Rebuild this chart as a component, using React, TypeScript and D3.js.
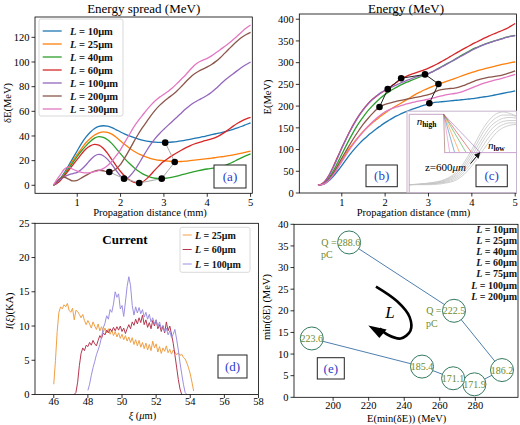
import React from "react";
import * as d3 from "d3";

const SERIF = "'Liberation Serif','DejaVu Serif','Times New Roman',serif";

// ---------- panels (a) and (b): propagation grid, mm ----------
const zMm = [0.45, 0.5, 0.6, 0.7, 0.8, 0.9, 1.0, 1.1, 1.2, 1.3, 1.4, 1.5, 1.6, 1.7, 1.8, 1.9, 2.0, 2.1, 2.2, 2.3, 2.4, 2.5, 2.6, 2.7, 2.8, 2.9, 3.0, 3.1, 3.2, 3.3, 3.4, 3.5, 3.6, 3.7, 3.8, 3.9, 4.0, 4.1, 4.2, 4.3, 4.4, 4.5, 4.6, 4.7, 4.8, 4.9, 5.0];

const lengthLabels = ["10", "25", "40", "60", "100", "200", "300"];
const lengthColors = ["#1f77b4", "#ff7f0e", "#2ca02c", "#d62728", "#9467bd", "#8c564b", "#e377c2"];

// energy spread (MeV)
const spreadL10 = [0, 1, 5, 10, 16, 22, 28, 34, 39, 43, 46, 47.8, 48.3, 48.0, 46.8, 45.0, 43.2, 41.5, 40.0, 38.8, 37.7, 36.6, 35.8, 35.3, 35.0, 34.8, 34.7, 34.8, 35.1, 35.5, 36.0, 36.6, 37.3, 38.0, 38.7, 39.4, 40.2, 41.0, 41.8, 42.6, 43.5, 44.4, 45.4, 46.6, 47.9, 49.3, 50.7];
const spreadL25 = [0, 1, 4, 9, 14.5, 20, 25, 30, 34.5, 38, 40.8, 42.6, 43.4, 43.0, 41.5, 39.0, 36.0, 33.0, 30.2, 27.8, 25.8, 24.2, 22.8, 21.7, 20.9, 20.3, 19.9, 19.6, 19.3, 19.2, 19.3, 19.6, 20.0, 20.4, 20.8, 21.2, 21.6, 22.0, 22.5, 23.0, 23.5, 24.1, 24.7, 25.4, 26.1, 26.9, 27.7];
const spreadL40 = [0, 1, 4, 8.5, 13.5, 18.5, 23.5, 28, 32, 35.5, 38.2, 39.4, 38.8, 37.0, 33.8, 29.8, 25.5, 21.4, 17.8, 14.6, 11.8, 9.5, 7.8, 6.5, 5.7, 5.3, 5.5, 6.0, 6.7, 7.5, 8.4, 9.3, 10.2, 11.1, 11.9, 12.6, 13.2, 13.7, 14.2, 14.9, 15.9, 17.3, 19.0, 20.8, 22.5, 24.1, 25.5];
const spreadL60 = [0, 1, 3.5, 7.5, 12, 16.5, 21, 25.5, 29.5, 32, 33.2, 32.6, 30.0, 25.8, 20.8, 15.8, 11.2, 7.4, 4.5, 2.6, 1.8, 2.6, 5.2, 8.8, 12.7, 16.3, 19.4, 22.0, 24.3, 26.4, 28.4, 30.3, 32.0, 33.5, 34.7, 35.7, 36.6, 37.6, 38.9, 40.7, 42.9, 45.4, 48.0, 50.3, 52.3, 53.8, 55.0];
const spreadL100 = [0, 1.5, 4.5, 7, 8.5, 9.5, 10.5, 13, 16.5, 20.5, 23.8, 25.0, 24.0, 21.0, 16.8, 12.0, 7.5, 5.2, 7.0, 11.0, 16.3, 22.2, 28.0, 33.3, 38.0, 42.0, 45.5, 48.8, 52.0, 55.2, 58.5, 61.8, 64.8, 67.2, 69.2, 71.0, 73.0, 75.5, 78.5, 81.8, 85.0, 87.8, 90.5, 93.2, 95.8, 98.0, 100.0];
const spreadL200 = [0, 2, 5.5, 6.5, 5, 3.5, 4, 6, 8, 10, 11.5, 12.2, 11.8, 10.9, 11.4, 13.5, 17.0, 22.5, 28.5, 35.0, 41.0, 46.5, 51.5, 56.5, 61.0, 64.8, 68.0, 70.8, 73.5, 76.5, 80.0, 83.8, 87.3, 90.3, 92.5, 94.2, 96.0, 98.0, 100.5, 103.5, 107.0, 110.5, 114.0, 117.2, 120.0, 122.3, 124.0];
const spreadL300 = [0, 3, 8, 13, 15, 13, 11.5, 10.5, 10, 10.2, 11, 12, 13.5, 16, 19.5, 24, 29, 35, 41, 47, 52, 56.5, 61, 65, 68.5, 71.5, 73.8, 76.3, 79.2, 82.5, 86.0, 89.5, 93.5, 97.2, 99.8, 101.5, 103.0, 105.0, 107.5, 110.0, 112.5, 115.2, 118.2, 121.3, 124.5, 127.5, 130.0];

// mean energy (MeV)
const energyL10 = [18, 18.5, 21, 28, 38, 50, 63, 77, 90, 102, 113, 123, 132, 140, 148, 155, 162, 168, 174, 179, 184, 188, 192, 195.5, 199, 202, 205, 207.5, 209, 210, 211, 212, 213, 214, 215, 216, 217, 218.5, 220, 221.5, 223, 225, 227, 229, 231, 233, 235];
const energyL25 = [18, 18.5, 22, 31, 44, 59, 75, 91, 106, 119, 131, 142, 152, 161, 169, 177, 184, 191, 197, 203, 209, 215, 221, 227, 232, 237, 241.5, 245.5, 249.5, 253, 256.5, 260, 263.5, 267, 270.5, 274, 277.5, 280.5, 283.5, 286, 288.5, 291, 293.5, 296, 298, 300, 302];
const energyL40 = [18, 18.5, 23, 34, 50, 69, 89, 109, 128, 146, 162, 176, 189, 200, 210, 219, 227, 234, 240, 245.5, 250.5, 255, 259, 263, 267, 271, 275, 279.5, 285, 290.5, 296, 301.5, 307, 313, 319, 324.5, 330, 334.5, 338.5, 342.5, 346, 349.5, 352.5, 355.5, 358.5, 361, 363];
const energyL60 = [18, 19, 26, 40, 60, 82, 104, 125, 145, 163, 179, 193, 205, 215, 223, 230, 236, 243, 250, 257.5, 264.5, 269, 273, 276.5, 280, 283.5, 287.5, 292, 297, 302.5, 308, 314, 320, 325.5, 331, 336.5, 342, 347, 352, 357, 361.5, 366, 370, 374, 378.5, 384, 390];
const energyL100 = [18, 19, 25, 39, 58, 80, 103, 124, 144, 162, 178, 192, 204, 214.5, 223, 231, 236.5, 241, 246, 250.5, 255, 259, 263, 266.5, 269.5, 272, 275, 279.5, 284.5, 290, 295.5, 301, 306.5, 312, 317.5, 323, 328.5, 333.5, 338, 342, 345.5, 349, 352, 355, 358, 360.5, 362.5];
const energyL200 = [18, 18.5, 22, 31, 45, 62, 80, 97, 114, 130, 145, 159, 171, 182, 192, 199.5, 204, 207, 209.5, 212, 214, 216, 218, 220, 222, 224, 226.5, 230, 235, 238, 239.5, 240.5, 241.5, 243.5, 247, 251, 255, 259, 262, 264.5, 266.5, 268, 269.5, 271.5, 274, 277.5, 281];
const energyL300 = [18, 18.5, 21, 29, 41, 56, 72, 88, 103, 117, 130, 142, 153, 163, 172, 180, 187, 192, 196, 199, 202, 205, 207.5, 210, 212, 214, 216, 218.5, 221, 223.5, 226, 227.5, 229, 231, 234, 238, 242, 246, 250, 253.5, 256.5, 259, 261.5, 264, 267, 270, 273];

const spreadSeries = [spreadL10, spreadL25, spreadL40, spreadL60, spreadL100, spreadL200, spreadL300];
const energySeries = [energyL10, energyL25, energyL40, energyL60, energyL100, energyL200, energyL300];

// position of the smallest spread (L = 200, 100, 60, 40, 25, 10)
const minSpreadZ = [1.74, 2.08, 2.43, 2.95, 3.25, 3.03];
const minSpreadVal = [10.8, 5.4, 1.9, 5.4, 18.9, 34.6];
const minEnergyZ = [1.87, 2.06, 2.37, 2.92, 3.23, 3.02];
const minEnergyVal = [198, 239, 264, 273, 251, 206.7];

// ---------- panel (c): density profiles ----------
const plateauStart = 2;
const plateauEnd = 33.5;
const rampEnds = [34.5, 39, 43.5, 48, 54, 59, 67];
const nHigh = 1;
const nLow = 0.51;
const insetX = [2, 20, 35, 45, 52, 58, 64, 70, 76, 82, 88, 94, 100];
const insetGray = [
  [0.1, 0.12, 0.17, 0.26, 0.38, 0.52, 0.68, 0.83, 0.94, 1.01, 1.03, 1.01, 0.98],
  [0.1, 0.12, 0.16, 0.24, 0.35, 0.48, 0.63, 0.78, 0.89, 0.96, 0.99, 0.99, 0.97],
  [0.1, 0.11, 0.15, 0.22, 0.32, 0.44, 0.58, 0.72, 0.84, 0.91, 0.95, 0.96, 0.95],
  [0.1, 0.11, 0.14, 0.2, 0.29, 0.4, 0.53, 0.67, 0.79, 0.87, 0.91, 0.92, 0.92],
  [0.1, 0.11, 0.13, 0.18, 0.26, 0.36, 0.48, 0.61, 0.73, 0.82, 0.87, 0.89, 0.89],
  [0.1, 0.1, 0.12, 0.16, 0.23, 0.32, 0.43, 0.55, 0.67, 0.77, 0.83, 0.86, 0.87],
];

// ---------- panel (d): current profiles, sampled every 0.1 μm ----------
const currentLabels = ["25", "60", "100"];
const currentColors = ["#f0a045", "#b5374f", "#9c90e0"];
const currentStart = [46.0, 47.2, 48.0];
const currentL25 = [1.5, 5.0, 9.2, 12.0, 12.8, 12.5, 13.1, 12.8, 13.3, 12.3, 12.0, 12.6, 10.9, 12.3, 12.1, 11.7, 11.2, 11.7, 10.8, 10.2, 10.8, 10.3, 9.7, 10.6, 10.0, 9.5, 10.3, 9.3, 9.9, 9.1, 9.7, 9.0, 9.6, 8.8, 9.4, 8.6, 9.2, 8.4, 9.0, 8.2, 8.8, 8.0, 8.6, 7.8, 8.4, 7.6, 8.3, 7.3, 8.0, 7.1, 7.9, 6.9, 7.6, 6.7, 7.5, 6.5, 7.3, 6.4, 7.8, 6.8, 7.4, 6.2, 7.0, 6.0, 6.8, 6.3, 7.1, 6.1, 6.6, 5.9, 6.5, 6.2, 5.8, 6.1, 5.7, 5.9, 5.4, 5.2, 4.6, 3.9, 3.0, 1.8, 0.5];
const currentL60 = [0.0, 0.3, 1.8, 4.2, 6.0, 6.8, 6.4, 7.2, 7.0, 7.6, 7.2, 7.9, 7.4, 7.1, 7.9, 8.6, 8.2, 9.0, 8.7, 9.4, 9.0, 9.6, 9.2, 9.8, 9.3, 9.9, 9.4, 10.0, 9.2, 9.7, 8.9, 9.6, 10.2, 9.6, 10.6, 10.1, 11.0, 10.3, 11.2, 10.5, 11.6, 10.2, 10.9, 9.8, 10.5, 9.6, 10.8, 10.0, 10.9, 9.6, 10.2, 9.2, 10.0, 9.0, 10.6, 9.3, 10.0, 8.8, 7.5, 5.8, 4.0, 2.2, 0.8, 0.0];
const currentL100 = [0.6, 1.5, 2.8, 3.9, 4.8, 5.8, 6.5, 7.3, 8.4, 9.7, 10.4, 11.5, 11.0, 12.4, 12.0, 13.2, 15.0, 14.2, 14.7, 12.5, 13.0, 11.4, 13.5, 15.8, 17.2, 15.9, 13.0, 11.6, 12.8, 11.9, 12.7, 11.8, 12.4, 11.3, 12.0, 11.0, 11.7, 10.6, 11.2, 10.3, 10.9, 9.9, 10.6, 9.6, 10.1, 9.2, 9.7, 8.7, 9.3, 8.3, 8.8, 9.5, 8.1, 6.5, 4.6, 3.0, 1.5, 0.3, 0.0];
const currentSeries = [currentL25, currentL60, currentL100];

// ---------- panel (e): minimum spread vs energy ----------
const peakEnergy = [209, 268, 295, 279.5, 267.5, 250, 188];
const minSpread = [35.8, 20.0, 6.3, 3.0, 4.4, 7.1, 13.6];
const chargePC = ["288.6", "222.5", "186.2", "171.9", "171.1", "185.4", "223.6"];
const scanLabels = ["10", "25", "40", "60", "75", "100", "200"];
const turnArrowE = [224.1, 236, 243, 243.5, 238, 231, 226.2];
const turnArrowDE = [25.6, 22.2, 18.6, 15.4, 13.6, 14.4, 15.9];
const arrowHeadE = [219.8, 230.1, 226];
const arrowHeadDE = [16.6, 15.7, 13.7];

// ---------- scales ----------
const xA = d3.scaleLinear().domain([0.025, 5.04]).range([35, 252.3]);
const yA = d3.scaleLinear().domain([-6.5, 136.5]).range([193.3, 17]);
const xB = d3.scaleLinear().domain([0.02, 5.03]).range([299.3, 516.5]);
const yB = d3.scaleLinear().domain([0, 412]).range([193, 14]);
const xC = d3.scaleLinear().domain([0, 100]).range([407, 516.5]);
const yC = d3.scaleLinear().domain([0, 1]).range([192.5, 114.3]);
const xD = d3.scaleLinear().domain([44.9, 58]).range([35, 258.5]);
const yD = d3.scaleLinear().domain([0, 25]).range([394.5, 223.3]);
const xE = d3.scaleLinear().domain([178, 304]).range([294, 518]);
const yE = d3.scaleLinear().domain([0, 40]).range([397.3, 224.3]);

function Axes({ x, y, xTicks, yTicks, xDy }: any) {
  const [l, r] = x.range();
  const [b, t] = y.range();
  return (
    <g fontFamily={SERIF} fontSize={10.5} fill="#000">
      {xTicks.map((v: number) => (
        <g key={"x" + v}>
          <line x1={x(v)} x2={x(v)} y1={b} y2={b + 3.5} stroke="#000" strokeWidth={0.8} />
          <text x={x(v)} y={b + xDy} textAnchor="middle">{v}</text>
        </g>
      ))}
      {yTicks.map((v: number) => (
        <g key={"y" + v}>
          <line x1={l - 3.5} x2={l} y1={y(v)} y2={y(v)} stroke="#000" strokeWidth={0.8} />
          <text x={l - 5.5} y={y(v)} dy="0.35em" textAnchor="end">{v}</text>
        </g>
      ))}
      <rect x={l} y={t} width={r - l} height={b - t} fill="none" stroke="#000" strokeWidth={0.8} />
    </g>
  );
}

function Tag({ x0, y0, x1, y1, text }: any) {
  return (
    <g>
      <rect x={x0} y={y0} width={x1 - x0} height={y1 - y0} fill="#fff" stroke="#222" strokeWidth={1} />
      <text x={(x0 + x1) / 2} y={(y0 + y1) / 2} dy="0.35em" textAnchor="middle" fontFamily={SERIF} fontSize={13} fill="#2b3cc8">
        {text}
      </text>
    </g>
  );
}

function LText({ x, y, v, size = 10.5, anchor = "start" }: any) {
  return (
    <text x={x} y={y} dy="0.35em" fontFamily={SERIF} fontSize={size} fontWeight="bold" textAnchor={anchor} fill="#111">
      <tspan fontStyle="italic">L</tspan>
      {" = " + v + "μm"}
    </text>
  );
}

export default function App() {
  const lineA = (vals: number[]) =>
    d3.line<number>().x((_, i) => xA(zMm[i])).y((d) => yA(d)).curve(d3.curveMonotoneX)(vals) as string;
  const lineB = (vals: number[]) =>
    d3.line<number>().x((_, i) => xB(zMm[i])).y((d) => yB(d)).curve(d3.curveMonotoneX)(vals) as string;
  const lineD = (vals: number[], start: number) =>
    d3.line<number>().x((_, i) => xD(start + i * 0.1)).y((d) => yD(d))(vals) as string;
  const pathA = d3.line<number>().x((d) => xA(d)).y((_, i) => yA(minSpreadVal[i]))(minSpreadZ) as string;
  const pathB = d3.line<number>().x((d) => xB(d)).y((_, i) => yB(minEnergyVal[i]))(minEnergyZ) as string;
  const pathE = d3.line<number>().x((d) => xE(d)).y((_, i) => yE(minSpread[i]))(peakEnergy) as string;
  const grayInset = (vals: number[]) =>
    d3.line<number>().x((_, i) => xC(insetX[i])).y((d) => yC(d)).curve(d3.curveMonotoneX)(vals) as string;
  const turnPath = d3.line<number>().x((d) => xE(d)).y((_, i) => yE(turnArrowDE[i])).curve(d3.curveCatmullRom)(turnArrowE) as string;
  const headPts = arrowHeadE.map((e, i) => `${xE(e)},${yE(arrowHeadDE[i])}`).join(" ");

  const [ax0] = xA.range();
  const [, bx1] = xB.range();

  return (
    <svg width={520} height={425} style={{ position: "fixed", left: 0, top: 0, background: "#fff" }} fontFamily={SERIF}>
      <rect x={0} y={0} width={520} height={425} fill="#fff" />
      <defs>
        <marker id="tipC" viewBox="0 0 10 10" refX="9" refY="5" markerWidth="6" markerHeight="6" orient="auto">
          <path d="M0,0 L10,5 L0,10 z" fill="#111" />
        </marker>
      </defs>

      {/* ---------- (a) energy spread ---------- */}
      <text x={143.7} y={12.5} textAnchor="middle" fontSize={13}>Energy spread (MeV)</text>
      {spreadSeries.map((s, i) => (
        <path key={i} d={lineA(s)} fill="none" stroke={lengthColors[i]} strokeWidth={1.3} />
      ))}
      <path d={pathA} fill="none" stroke="#a8a8a8" strokeWidth={1} />
      {minSpreadZ.map((z, i) => (
        <circle key={i} cx={xA(z)} cy={yA(minSpreadVal[i])} r={3.3} fill="#000" />
      ))}
      <Axes x={xA} y={yA} xTicks={[1, 2, 3, 4, 5]} yTicks={[0, 20, 40, 60, 80, 100, 120]} xDy={13} />
      <text transform="translate(11,103) rotate(-90)" textAnchor="middle" fontSize={10.5}>δE(MeV)</text>
      <text x={150} y={216} textAnchor="middle" fontSize={10.5}>Propagation distance (mm)</text>
      <rect x={ax0 + 4} y={19} width={84} height={97} rx={2} fill="#fff" fillOpacity={0.85} stroke="#cfcfcf" strokeWidth={0.8} />
      {lengthLabels.map((lab, i) => (
        <g key={lab}>
          <line x1={ax0 + 7.7} x2={ax0 + 26.7} y1={31 + 13 * i} y2={31 + 13 * i} stroke={lengthColors[i]} strokeWidth={1.3} />
          <LText x={ax0 + 35} y={31 + 13 * i} v={lab} size={10.5} />
        </g>
      ))}
      <Tag x0={214} y0={165} x1={246} y1={188} text="(a)" />

      {/* ---------- (b) energy ---------- */}
      <text x={406} y={12.5} textAnchor="middle" fontSize={13}>Energy (MeV)</text>
      {energySeries.map((s, i) => (
        <path key={i} d={lineB(s)} fill="none" stroke={lengthColors[i]} strokeWidth={1.3} />
      ))}
      <path d={pathB} fill="none" stroke="#222" strokeWidth={1} />
      {minEnergyZ.map((z, i) => (
        <circle key={i} cx={xB(z)} cy={yB(minEnergyVal[i])} r={3.3} fill="#000" />
      ))}
      <Axes x={xB} y={yB} xTicks={[1, 2, 3, 4, 5]} yTicks={[0, 50, 100, 150, 200, 250, 300, 350, 400]} xDy={13} />
      <text transform="translate(271,97) rotate(-90)" textAnchor="middle" fontSize={10.5}>E(MeV)</text>
      <text x={413.5} y={216} textAnchor="middle" fontSize={10.5}>Propagation distance (mm)</text>
      <Tag x0={366} y0={165} x1={397.3} y1={186.7} text="(b)" />

      {/* ---------- (c) inset: density profiles ---------- */}
      <rect x={xC(0)} y={yC(1.04)} width={bx1 - xC(0)} height={yC(0) - yC(1.04)} fill="#fff" stroke="#c6b6cc" strokeWidth={1} />
      {insetGray.map((g, i) => (
        <path key={i} d={grayInset(g)} fill="none" stroke="#c4c4c4" strokeOpacity={0.8} strokeWidth={1} />
      ))}
      <path
        d={`M${xC(plateauStart)},${yC(0)} L${xC(plateauStart)},${yC(nHigh)} L${xC(plateauEnd)},${yC(nHigh)}`}
        fill="none" stroke="#c9a3c4" strokeWidth={1}
      />
      {rampEnds.map((e, i) => (
        <line key={i} x1={xC(plateauEnd)} y1={yC(nHigh)} x2={xC(e)} y2={yC(nLow)} stroke={lengthColors[(i + 5) % 7]} strokeOpacity={0.55} strokeWidth={1} />
      ))}
      <line x1={xC(plateauEnd + 0.5)} x2={xC(100)} y1={yC(nLow)} y2={yC(nLow)} stroke="#c9a3cf" strokeWidth={1} />
      <text x={xC(8.8)} y={yC(0.86)} fontSize={11}>
        <tspan fontStyle="italic">n</tspan>
        <tspan fontSize={7.5} fontWeight="bold" dy={2}>high</tspan>
      </text>
      <text x={xC(74)} y={yC(0.55)} fontSize={11}>
        <tspan fontStyle="italic">n</tspan>
        <tspan fontSize={7.5} fontWeight="bold" dy={2}>low</tspan>
      </text>
      <text x={xC(16.4)} y={yC(0.27)} fontSize={11}>
        z=600<tspan fontStyle="italic">μm</tspan>
      </text>
      <line x1={xC(58)} y1={yC(0.37)} x2={xC(66.5)} y2={yC(nLow)} stroke="#111" strokeWidth={1} markerEnd="url(#tipC)" />
      <Tag x0={476} y0={165} x1={507.3} y1={186.7} text="(c)" />

      {/* ---------- (d) current ---------- */}
      {currentSeries.map((s, i) => (
        <path key={i} d={lineD(s, currentStart[i])} fill="none" stroke={currentColors[i]} strokeWidth={1} />
      ))}
      <Axes x={xD} y={yD} xTicks={[46, 48, 50, 52, 54, 56, 58]} yTicks={[0, 5, 10, 15, 20, 25]} xDy={10.8} />
      <text x={125} y={239} dy="0.35em" textAnchor="middle" fontSize={13} fontWeight="bold">Current</text>
      <rect x={180} y={227.3} width={70} height={45} rx={2} fill="#fff" fillOpacity={0.85} stroke="#d0d0d0" strokeWidth={0.8} />
      {currentLabels.map((lab, i) => (
        <g key={lab}>
          <line x1={182.7} x2={191.7} y1={235 + 14.5 * i} y2={235 + 14.5 * i} stroke={currentColors[i]} strokeWidth={1} />
          <LText x={195} y={235 + 14.5 * i} v={lab} size={10} />
        </g>
      ))}
      <text transform="translate(12.5,311) rotate(-90)" textAnchor="middle" fontSize={10.5}>
        <tspan fontStyle="italic">I</tspan>(<tspan fontStyle="italic">ξ</tspan>)(KA)
      </text>
      <text x={142.5} y={419} textAnchor="middle" fontSize={10.5}>
        <tspan fontStyle="italic">ξ</tspan> (<tspan fontStyle="italic">μ</tspan>m)
      </text>
      <Tag x0={218} y0={355} x1={247} y1={378} text="(d)" />

      {/* ---------- (e) minimum spread vs energy ---------- */}
      <path d={pathE} fill="none" stroke="#4f7fae" strokeWidth={1} />
      {peakEnergy.map((e, i) => (
        <circle key={i} cx={xE(e)} cy={yE(minSpread[i])} r={11.5} fill="#fff" stroke="#347a5e" strokeWidth={1} />
      ))}
      {peakEnergy.map((e, i) => (
        <g key={i} fontSize={10} fill="#6d8a2c">
          <text x={xE(e)} y={yE(minSpread[i])} dy="0.35em" textAnchor="middle">{chargePC[i]}</text>
          {i < 2 && (
            <>
              <text x={xE(e) - 12.5} y={yE(minSpread[i])} dy="0.35em" textAnchor="end">Q =</text>
              <text x={xE(e) - 28} y={yE(minSpread[i]) + 12.5} dy="0.35em">pC</text>
            </>
          )}
        </g>
      ))}
      <path d={turnPath} fill="none" stroke="#000" strokeWidth={2.6} />
      <polygon points={headPts} fill="#000" />
      <text x={xE(232)} y={yE(19.6)} dy="0.35em" textAnchor="middle" fontSize={17} fontStyle="italic">L</text>
      <Axes x={xE} y={yE} xTicks={[200, 220, 240, 260, 280]} yTicks={[0, 5, 10, 15, 20, 25, 30, 35, 40]} xDy={11.3} />
      {scanLabels.map((lab, i) => (
        <LText key={lab} x={517} y={229.5 + 11.1 * i} v={lab} size={10} anchor="end" />
      ))}
      <text transform="translate(270,307) rotate(-90)" textAnchor="middle" fontSize={10.5}>min(δE) (MeV)</text>
      <text x={406.7} y={421.5} textAnchor="middle" fontSize={10.5}>E(min(δE)) (MeV)</text>
      <Tag x0={317.3} y0={357.7} x1={344.3} y1={379} text="(e)" />
    </svg>
  );
}
